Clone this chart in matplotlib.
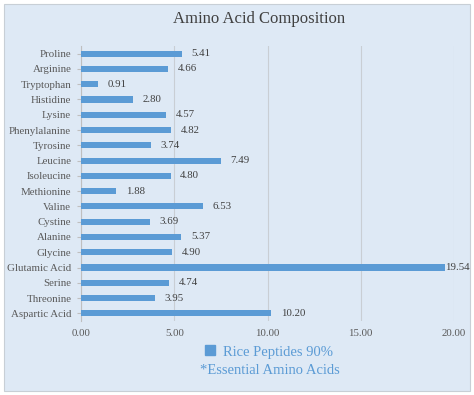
import matplotlib
matplotlib.use("Agg")
import matplotlib.pyplot as plt
from matplotlib.patches import Rectangle
from matplotlib.lines import Line2D

categories = ["Aspartic Acid", "Threonine", "Serine", "Glutamic Acid", "Glycine",
              "Alanine", "Cystine", "Valine", "Methionine", "Isoleucine", "Leucine",
              "Tyrosine", "Phenylalanine", "Lysine", "Histidine", "Tryptophan",
              "Arginine", "Proline"]
values = [10.20, 3.95, 4.74, 19.54, 4.90, 5.37, 3.69, 6.53, 1.88, 4.80, 7.49,
          3.74, 4.82, 4.57, 2.80, 0.91, 4.66, 5.41]
xticks = [0, 5, 10, 15, 20]
series_name = "Rice Peptides 90%"
note = "*Essential Amino Acids"
title = "Amino Acid Composition"

plt.rcParams['font.family'] = ['Liberation Serif', 'DejaVu Serif']
bg = "#DEE9F5"
bar_color = "#5B9BD5"
text_color = "#595959"

fig = plt.figure(figsize=(4.74, 3.95), dpi=100)
fig.patch.set_facecolor("white")
fig.patches.append(Rectangle((4/474, 4/395), 466/474, 387/395, transform=fig.transFigure,
                             facecolor=bg, edgecolor="#C8CFD6", linewidth=0.8, zorder=-1))

ax = fig.add_axes([81/474, 1 - 321/395, 373/474, 275/395])
ax.set_facecolor(bg)
y = list(range(len(categories)))
ax.barh(y, values, height=0.4, color=bar_color, zorder=3)
ax.set_xlim(0, 20)
ax.set_ylim(-0.5, len(categories) - 0.5)
ax.set_yticks(y)
ax.set_yticklabels(categories, fontsize=7.8, color=text_color)
ax.set_xticks(xticks)
ax.set_xticklabels([f"{v:.2f}" for v in xticks], fontsize=7.8, color=text_color)
ax.tick_params(axis='x', length=0, pad=6)
ax.tick_params(axis='y', length=3, color="#BFBFBF", pad=4)
ax.grid(axis='x', color="#C9CED4", linewidth=0.8, zorder=0)
for s in ["top", "right", "bottom"]:
    ax.spines[s].set_visible(False)
ax.spines["left"].set_color("#BFBFBF")
ax.spines["left"].set_linewidth(0.8)

for yi, v in zip(y, values):
    off = 0 if v > 19 else 7
    ax.annotate(f"{v:.2f}", (v, yi), xytext=(off, 0), textcoords="offset points",
                va="center", ha="left", fontsize=7.8, color="#404040", annotation_clip=False, zorder=4)

fig.text(0.5 + 22/474, 1 - 19/395, title, ha="center", va="center", fontsize=12, color="#404040")

handle = Line2D([], [], marker="s", color=bar_color, linestyle="none", markersize=7)
fig.legend([handle], [series_name], loc="center", bbox_to_anchor=(268/474, 1 - 352/395),
           frameon=False, fontsize=10.5, labelcolor=bar_color, handletextpad=0.4, handlelength=1.0,
           borderpad=0.1)
fig.text(270/474, 1 - 370/395, note, ha="center", va="center", fontsize=10.5, color=bar_color)

fig.savefig("out.png", dpi=100, facecolor=fig.get_facecolor())
